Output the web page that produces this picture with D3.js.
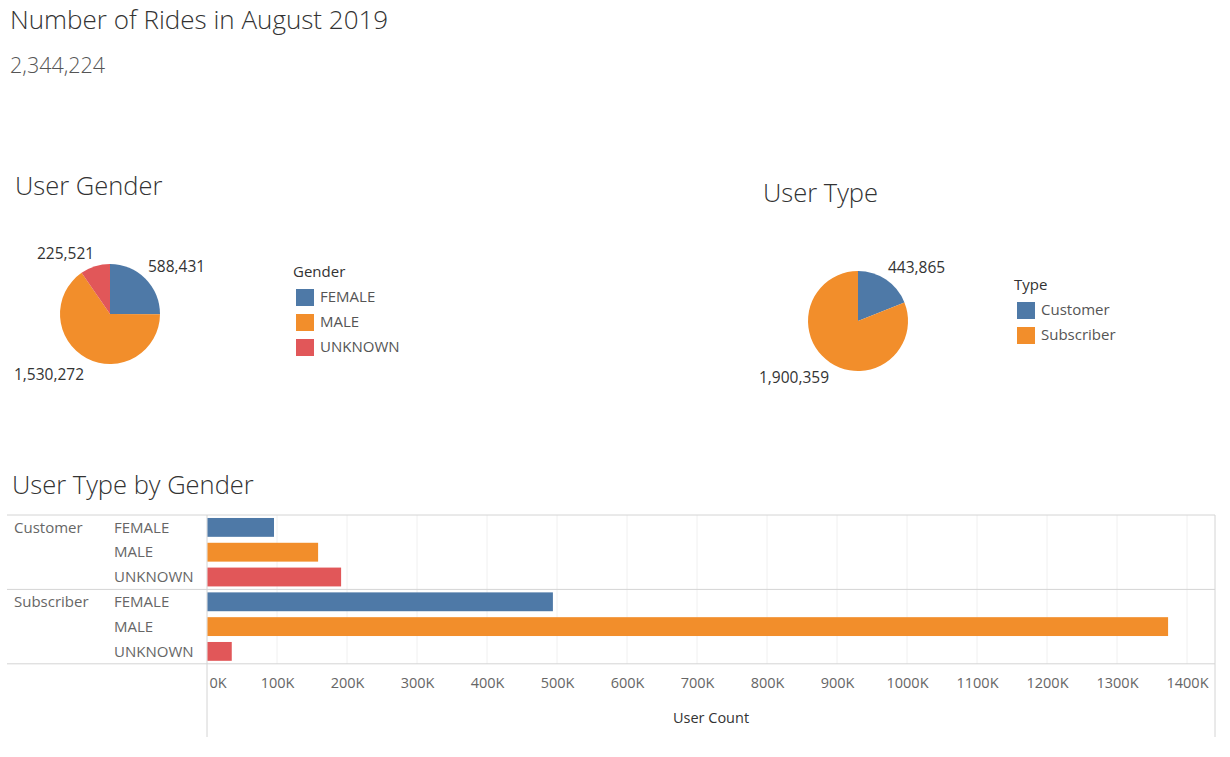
<!DOCTYPE html>
<html>
<head>
<meta charset="utf-8">
<script src="https://cdn.jsdelivr.net/npm/d3@7"></script>
<style>
  body { margin: 0; background: #fff; font-family: "Open Sans", "Noto Sans", sans-serif; }
  .title { font-weight: 300; fill: #333; }
  .lbl { fill: #333; font-size: 15.5px; }
  .axis-lbl { fill: #666; font-size: 15px; }
</style>
</head>
<body>
<svg id="chart" width="1230" height="757"></svg>
<script>
const totalRides = 2344224;

const genders = ["FEMALE", "MALE", "UNKNOWN"];
const genderCounts = [588431, 1530272, 225521];

const userTypes = ["Customer", "Subscriber"];
const typeCounts = [443865, 1900359];

// user count by type and gender
const customerByGender = [95000, 158000, 190865];
const subscriberByGender = [493431, 1372272, 34656];

const xTicks = [0, 100000, 200000, 300000, 400000, 500000, 600000, 700000,
                800000, 900000, 1000000, 1100000, 1200000, 1300000, 1400000];

const colors = d3.scaleOrdinal()
    .domain(genders)
    .range(["#4e79a7", "#f28e2b", "#e15759"]);
const typeColors = d3.scaleOrdinal()
    .domain(userTypes)
    .range(["#4e79a7", "#f28e2b"]);

const svg = d3.select("#chart");
const fmt = d3.format(",");

// headers
svg.append("text").attr("class", "title")
    .attr("x", 10).attr("y", 29).style("font-size", "26px")
    .text("Number of Rides in August 2019");
svg.append("text").attr("class", "title")
    .attr("x", 10).attr("y", 73).style("font-size", "21.5px").style("fill", "#555")
    .text(fmt(totalRides));
svg.append("text").attr("class", "title")
    .attr("x", 15).attr("y", 195).style("font-size", "25.5px")
    .text("User Gender");
svg.append("text").attr("class", "title")
    .attr("x", 763).attr("y", 202).style("font-size", "25.5px")
    .text("User Type");
svg.append("text").attr("class", "title")
    .attr("x", 12).attr("y", 494).style("font-size", "25.5px")
    .text("User Type by Gender");

// pies
const pie = d3.pie().sort(null);
const arc = d3.arc().innerRadius(0).outerRadius(50);

function drawPie(cx, cy, values, keys, color, labelPos) {
    const g = svg.append("g").attr("transform", `translate(${cx},${cy})`);
    const arcs = pie(values);
    g.selectAll("path")
        .data(arcs)
        .enter().append("path")
        .attr("d", arc)
        .attr("fill", (d, i) => color(keys[i]));
    svg.selectAll(null)
        .data(arcs)
        .enter().append("text")
        .attr("class", "lbl")
        .attr("x", (d, i) => labelPos[i][0])
        .attr("y", (d, i) => labelPos[i][1])
        .attr("dy", "0.35em")
        .text(d => fmt(d.data));
}

drawPie(110, 314, genderCounts, genders, colors, [[148, 267], [14, 375], [37, 254]]);
drawPie(858, 321, typeCounts, userTypes, typeColors, [[888, 268], [759, 378]]);

function drawLegend(x, y, title, keys, color) {
    svg.append("text")
        .attr("x", x).attr("y", y).attr("dy", "0.35em")
        .style("font-size", "15px").style("fill", "#333")
        .text(title);
    const items = svg.selectAll(null)
        .data(keys)
        .enter().append("g")
        .attr("transform", (d, i) => `translate(${x + 3},${y + 25 * (i + 1)})`);
    items.append("rect")
        .attr("x", 0).attr("y", -8).attr("width", 18).attr("height", 17)
        .attr("fill", d => color(d));
    items.append("text")
        .attr("x", 24).attr("dy", "0.35em")
        .style("font-size", "15px").style("fill", "#555")
        .text(d => d);
}

drawLegend(293, 272, "Gender", genders, colors);
drawLegend(1014, 285, "Type", userTypes, typeColors);

// bar chart
const plotLeft = 207, plotRight = 1215, plotTop = 515, rowH = 24.8;
const rows = [];
userTypes.forEach((t, ti) => {
    const vals = ti === 0 ? customerByGender : subscriberByGender;
    genders.forEach((g, gi) => rows.push({ type: t, gender: g, value: vals[gi], idx: ti * 3 + gi }));
});
const plotBottom = plotTop + rowH * rows.length;

const x = d3.scaleLinear().domain([0, 1440000]).range([plotLeft, plotRight]);
const y = d3.scaleBand().domain(d3.range(rows.length)).range([plotTop, plotBottom]).paddingInner(0.24).paddingOuter(0.12);

// gridlines
svg.append("g").selectAll("line")
    .data(xTicks.slice(1))
    .enter().append("line")
    .attr("x1", d => x(d)).attr("x2", d => x(d))
    .attr("y1", plotTop).attr("y2", plotBottom)
    .attr("stroke", "#f0f0f0");

// pane borders
[plotTop, plotTop + rowH * 3, plotBottom].forEach(yy => {
    svg.append("line")
        .attr("x1", 7).attr("x2", plotRight)
        .attr("y1", yy).attr("y2", yy)
        .attr("stroke", "#d4d4d4");
});
svg.append("line").attr("x1", plotLeft).attr("x2", plotLeft)
    .attr("y1", plotTop).attr("y2", 737).attr("stroke", "#d4d4d4");
svg.append("line").attr("x1", plotRight).attr("x2", plotRight)
    .attr("y1", plotTop).attr("y2", 737).attr("stroke", "#d4d4d4");

svg.append("g").selectAll("rect")
    .data(rows)
    .enter().append("rect")
    .attr("x", x(0) + 0.5)
    .attr("y", d => y(d.idx))
    .attr("width", d => x(d.value) - x(0))
    .attr("height", y.bandwidth())
    .attr("fill", d => colors(d.gender));

// row headers
svg.selectAll(null)
    .data(userTypes)
    .enter().append("text")
    .attr("class", "axis-lbl")
    .attr("x", 14)
    .attr("y", (d, i) => y(i * 3) + y.bandwidth() / 2)
    .attr("dy", "0.35em")
    .text(d => d);
svg.selectAll(null)
    .data(rows)
    .enter().append("text")
    .attr("class", "axis-lbl")
    .attr("x", 114)
    .attr("y", d => y(d.idx) + y.bandwidth() / 2)
    .attr("dy", "0.35em")
    .text(d => d.gender);

// x axis
const xAxis = d3.axisBottom(x)
    .tickValues(xTicks)
    .tickSize(0)
    .tickPadding(0)
    .tickFormat(d => (d / 1000) + "K");
const ax = svg.append("g")
    .attr("transform", `translate(0,${plotBottom + 14})`)
    .call(xAxis);
ax.select(".domain").remove();
ax.selectAll("text")
    .attr("class", "axis-lbl")
    .style("font-family", "\"Open Sans\", \"Noto Sans\", sans-serif")
    .style("font-size", "14.5px")
    .attr("text-anchor", (d, i) => i === 0 ? "start" : "middle")
    .attr("dx", (d, i) => i === 0 ? 2 : 0);

svg.append("text")
    .attr("x", x(720000)).attr("y", 718).attr("dy", "0.35em")
    .attr("text-anchor", "middle")
    .style("font-size", "14.5px").style("fill", "#333")
    .text("User Count");
</script>
</body>
</html>
